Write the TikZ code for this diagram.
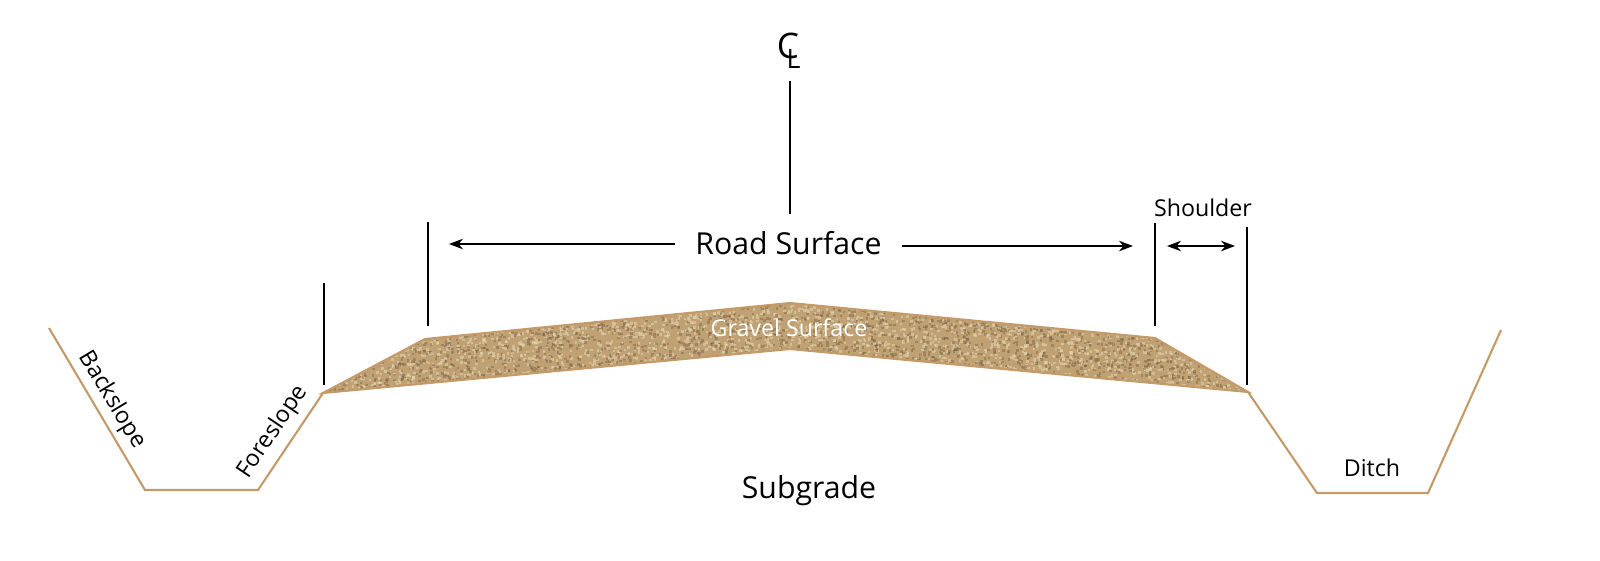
\documentclass[tikz,border=0pt]{standalone}
\usepackage{fontspec}
\usetikzlibrary{arrows.meta}
\setmainfont{Open Sans}
\definecolor{soil}{HTML}{C49A68}
\definecolor{gravel}{HTML}{BFA173}
\definecolor{gravelDark}{HTML}{7A6144}
\definecolor{gravelLight}{HTML}{E2D2AE}
\tikzset{
  big text/.style={inner sep=0pt, font=\fontsize{8.6}{10}\selectfont},
  small text/.style={inner sep=0pt, font=\fontsize{6.6}{8}\selectfont},
  mark line/.style={line width=0.7pt, black},
  dim arrow/.style={line width=0.45pt, black, -{Stealth[length=4pt,width=3pt]}},
  ground/.style={line width=0.6pt, soil, line join=miter},
}
\begin{document}
\begin{tikzpicture}[x=0.01cm, y=-0.01cm]
  \useasboundingbox (0,0) rectangle (1600,560);

  % Section points
  \coordinate (backTop) at (49,328);
  \coordinate (ditchLa) at (145,490);
  \coordinate (ditchLb) at (258,490);
  \coordinate (toeL) at (323,393);
  \coordinate (edgeL) at (425,339);
  \coordinate (crown) at (790,303);
  \coordinate (edgeR) at (1155,338);
  \coordinate (toeR) at (1248,392);
  \coordinate (crownLow) at (790,349);
  \coordinate (ditchRa) at (1317,493);
  \coordinate (ditchRb) at (1428,493);
  \coordinate (backTopR) at (1501,330);

  % Gravel layer
  \fill[gravel] (toeL) -- (edgeL) -- (crown) -- (edgeR) -- (toeR) -- (crownLow) -- cycle;
  \begin{scope}
    \clip (toeL) -- (edgeL) -- (crown) -- (edgeR) -- (toeR) -- (crownLow) -- cycle;
    \pgfmathsetseed{17}
    \foreach \i in {1,...,3200}
    {
      \pgfmathsetmacro{\px}{320+rnd*930}
      \pgfmathsetmacro{\py}{300+rnd*95}
      \fill[gravelDark, opacity=0.45] (\px,\py) rectangle ++(2.5,2.5);
      \pgfmathsetmacro{\qx}{320+rnd*930}
      \pgfmathsetmacro{\qy}{300+rnd*95}
      \fill[gravelLight, opacity=0.6] (\qx,\qy) rectangle ++(2.5,2.5);
    }
  \end{scope}
  \draw[ground] (toeL) -- (edgeL) -- (crown) -- (edgeR) -- (toeR) -- (crownLow) -- cycle;

  % Ditches
  \draw[ground] (backTop) -- (ditchLa) -- (ditchLb) -- (toeL);
  \draw[ground] (toeR) -- (ditchRa) -- (ditchRb) -- (backTopR);

  % Labels
  \node[inner sep=0pt, font=\fontsize{10}{12}\selectfont] (clC) at (788,46) {C};
  \node[inner sep=0pt, font=\fontsize{7.6}{9}\selectfont, anchor=base west] (clL) at (786,68) {L};
  \node[big text, inner xsep=5.7pt] (road) at (788.5,243) {Road Surface};
  \node[small text] (shoulder) at (1203,208) {Shoulder};
  \node[small text, white] (surface) at (789,328) {Gravel Surface};
  \node[big text] (subgrade) at (809,491) {Subgrade};
  \node[small text] (ditch) at (1372,468) {Ditch};
  \node[small text, rotate=-59] (backslope) at (112,400) {Backslope};
  \node[small text, rotate=56] (foreslope) at (273,432) {Foreslope};

  % Limit lines
  \coordinate (clTop) at (790,81);
  \coordinate (clEnd) at (790,214);
  \coordinate (limAa) at (324,283);
  \coordinate (limAb) at (324,385);
  \coordinate (limBa) at (428,222);
  \coordinate (limBb) at (428,326);
  \coordinate (limCa) at (1155,223);
  \coordinate (limCb) at (1155,326);
  \coordinate (limDa) at (1247,227);
  \coordinate (limDb) at (1247,385);
  \draw[line width=0.55pt] (clTop) -- (clEnd);
  \draw[mark line] (limAa) -- (limAb);
  \draw[mark line] (limBa) -- (limBb);
  \draw[mark line] (limCa) -- (limCb);
  \draw[mark line] (limDa) -- (limDb);

  % Dimension arrows
  \coordinate (roadL) at (449,244);
  \coordinate (roadR) at (1133,246);
  \coordinate (shoulderL) at (1167,246);
  \coordinate (shoulderR) at (1235,246);
  \draw[dim arrow] (road.west |- roadL) -- (roadL);
  \draw[dim arrow] (road.east |- roadR) -- (roadR);
  \draw[dim arrow, {Stealth[length=4pt,width=3pt]}-{Stealth[length=4pt,width=3pt]}] (shoulderL) -- (shoulderR);
\end{tikzpicture}
\end{document}
